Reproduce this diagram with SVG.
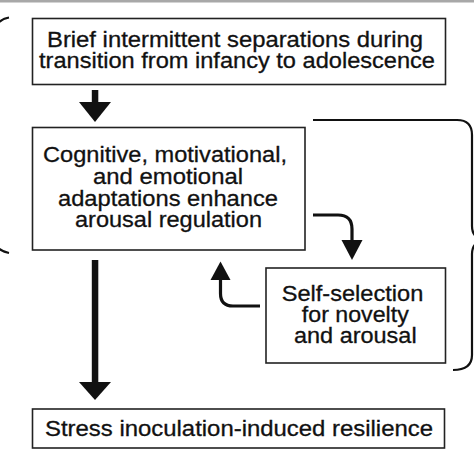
<svg xmlns="http://www.w3.org/2000/svg" width="474" height="474" viewBox="0 0 474 474">
<defs>
<style>
.box{fill:#fff;stroke:#222;stroke-width:1.6}
.t{font-family:"Liberation Sans",Arial,Helvetica,sans-serif;font-size:22px;fill:#111;stroke:#111;stroke-width:0.3;text-anchor:middle}
.ln{fill:none;stroke:#111;stroke-width:3.2;stroke-linecap:butt}
.brace{fill:none;stroke:#111;stroke-width:2.2}
.head{fill:#111}
.shaft{fill:#111}
</style>
</defs>
<rect x="0" y="0" width="474" height="474" fill="#fff"/>
<rect x="0" y="0" width="474" height="2.5" fill="#a8a8a8"/>

<g id="node-separations">
<rect class="box" x="32.5" y="18.5" width="413" height="66"/>
<text class="t" x="235" y="46.7" textLength="376" lengthAdjust="spacingAndGlyphs">Brief intermittent separations during</text>
<text class="t" x="237" y="68.3" textLength="396" lengthAdjust="spacingAndGlyphs">transition from infancy to adolescence</text>
</g>

<g id="node-adaptations">
<rect class="box" x="32.5" y="127.5" width="272.5" height="122.5"/>
<text class="t" x="165" y="161.7" textLength="244" lengthAdjust="spacingAndGlyphs">Cognitive, motivational,</text>
<text class="t" x="168" y="184.2" textLength="150" lengthAdjust="spacingAndGlyphs">and emotional</text>
<text class="t" x="168" y="206.2" textLength="220" lengthAdjust="spacingAndGlyphs">adaptations enhance</text>
<text class="t" x="168.5" y="226.7" textLength="187" lengthAdjust="spacingAndGlyphs">arousal regulation</text>
</g>

<g id="node-selfselection">
<rect class="box" x="266" y="268" width="179.5" height="95"/>
<text class="t" x="352.5" y="300.7" textLength="141.6" lengthAdjust="spacingAndGlyphs">Self-selection</text>
<text class="t" x="355.3" y="321.7" textLength="107" lengthAdjust="spacingAndGlyphs">for novelty</text>
<text class="t" x="355.3" y="343.3" textLength="122.7" lengthAdjust="spacingAndGlyphs">and arousal</text>
</g>

<g id="node-resilience">
<rect class="box" x="32.5" y="409" width="412" height="39"/>
<text class="t" x="239" y="435.7" textLength="388" lengthAdjust="spacingAndGlyphs">Stress inoculation-induced resilience</text>
</g>

<g id="connectors">
<rect class="shaft" x="91.8" y="90" width="6.5" height="13"/>
<polygon class="head" points="79,102 111,102 95,122"/>
<rect class="shaft" x="91.8" y="260" width="6.5" height="123"/>
<polygon class="head" points="79,382 111,382 95,400"/>
<path class="ln" d="M313 215 H338 Q352 215 352 229 V241"/>
<polygon class="head" points="341.5,240 362.5,240 352,260"/>
<path class="ln" d="M260 306 H233 Q220.5 306 220.5 293.5 V279"/>
<polygon class="head" points="210.5,280 230.5,280 220.5,261.5"/>
<path class="brace" d="M313 120 H457 Q472 120 472 135 V226 Q472 240 488 240 Q472 240 472 254 V355 Q472 370 453 370"/>
<path class="brace" d="M9 17.5 Q-5 20 -7 35 V120 Q-7 135 -22 135 Q-7 135 -7 150 V236 Q-6 250 9 253"/>
</g>
</svg>
